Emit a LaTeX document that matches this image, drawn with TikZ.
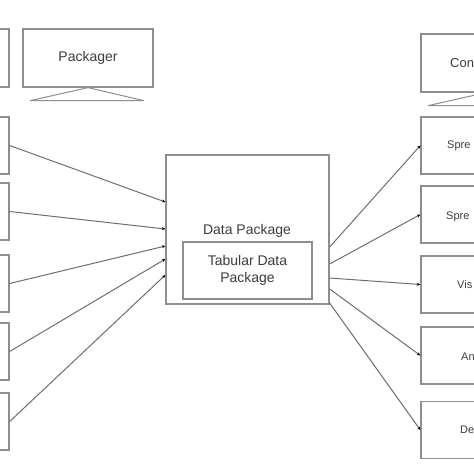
\documentclass[tikz,border=0pt]{standalone}
\usepackage{fontspec}
\setmainfont{Liberation Sans}
\usetikzlibrary{arrows.meta,positioning}
\definecolor{boksgraa}{HTML}{8E8E8E}
\definecolor{linjegraa}{HTML}{6E6E6E}
\definecolor{tekstgraa}{HTML}{3C3C3C}
\tikzset{
    %Define standard arrow tip
    >={Stealth[length=3.5pt,width=3pt,black]},
    %Define style for boxes
    boks/.style={
           rectangle,
           draw=boksgraa, line width=1.3pt,
           minimum height=57pt,
           text=tekstgraa,
           inner sep=0pt},
    % Define arrow style
    pil/.style={
           ->,
           draw=linjegraa,
           line width=1pt}
}
\begin{document}
\begin{tikzpicture}[x=1pt, y=-1pt,
skjerm/.style={boks, minimum width=130pt, minimum height=58pt, font=\fontsize{14}{16}\selectfont},
kilde/.style={boks, minimum width=60pt},
maal/.style={boks, minimum width=120pt},
merke/.style={anchor=west, inner sep=0pt, text=tekstgraa, font=\fontsize{11}{13}\selectfont},
fot/.style={draw=boksgraa, line width=1pt, line join=bevel}
]
\useasboundingbox (0,0) rectangle (474,474);
\clip (0,0) rectangle (474,474);
%Nodes
\node[skjerm] (src0) at (-56,58) {};
\node[skjerm] (packager) at (88,58) {Packager};
\node[skjerm] (consumer) at (486,63) {};
\node[merke, font=\fontsize{13}{15}\selectfont] (conlbl) at (450,63) {Con};
\foreach \s in {src0,packager,consumer}
  \draw[fot] (\s.south) -- ++(-58,13) -- ++(114,0) -- cycle;
\node[kilde] (l1) at (-21,145.5) {};
\node[kilde] (l2) at (-21,211.5) {};
\node[kilde] (l3) at (-21,283.5) {};
\node[kilde] (l4) at (-21,351.5) {};
\node[kilde] (l5) at (-21,421.5) {};
\node[boks, minimum width=163pt, minimum height=149pt] (datapkg) at (247.5,229.5) {};
\node[text=tekstgraa, font=\fontsize{14}{16}\selectfont] (dplbl) at (247,231) {Data Package};
\node[boks, minimum width=129pt, align=center, font=\fontsize{14}{17}\selectfont] (tabular) at (247.5,270.5) {Tabular Data\\Package};
\node[maal] (r1) at (481,145.5) {};
\node[maal] (r2) at (481,214.5) {};
\node[maal] (r3) at (481,284.5) {};
\node[maal] (r4) at (481,355.5) {};
\node[maal] (r5) at (481,430) {};
\node[merke] (r1lbl) at (447,146) {Spre};
\node[merke] (r2lbl) at (446,217) {Spre};
\node[merke] (r3lbl) at (457,285) {Vis};
\node[merke] (r4lbl) at (461,357) {An};
\node[merke] (r5lbl) at (460,430) {De};
%Arrows
\foreach \s/\y in {l1/202,l2/229,l3/246,l4/259,l5/275}
  \draw[pil] (\s.east) -- (datapkg.west |- 0,\y);
\foreach \y/\t in {247/r1,264/r2,278/r3,289/r4,303/r5}
  \draw[pil] (datapkg.east |- 0,\y) -- (\t.west);
\end{tikzpicture}
\end{document}
